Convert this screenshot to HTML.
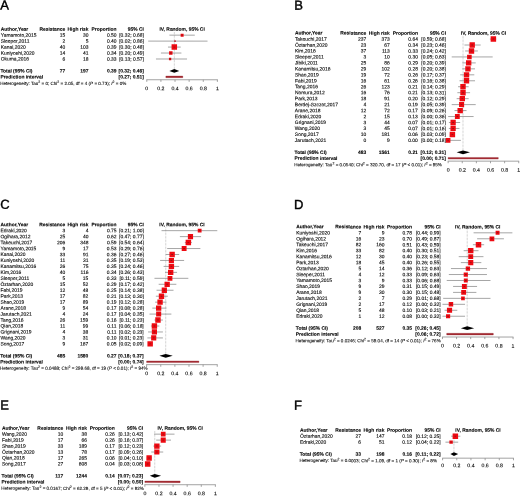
<!DOCTYPE html>
<html lang="en">
<head>
<meta charset="utf-8">
<title>Forest plots A-F</title>
<style>
html,body{margin:0;padding:0;background:#fff;}
body{width:520px;height:496px;overflow:hidden;}
svg{display:block;}
text{font-family:"Liberation Sans",Arial,Helvetica,sans-serif;font-size:4.95px;fill:#000;stroke:#000;stroke-width:0.1px;}
text.b{font-weight:bold;font-size:4.92px;}
text.h{font-size:4.56px;stroke-width:0.08px;}
text.lbl{font-size:13.0px;stroke-width:0.4px;}
text.tk{font-size:5.2px;}
</style>
</head>
<body>
<svg width="520" height="496" viewBox="0 0 520 496" text-rendering="geometricPrecision">
<rect x="0" y="0" width="520" height="496" fill="#ffffff"/>
<g transform="rotate(0.03 260 248)">
<g id="panel-A">
<text x="0.10" y="9.75" class="lbl">A</text>
<text x="0.60" y="30.84" class="b">Author,Year</text>
<text x="65.20" y="30.84" class="b" text-anchor="end">Resistance</text>
<text x="88.40" y="30.84" class="b" text-anchor="end">High risk</text>
<text x="116.50" y="30.84" class="b" text-anchor="end">Proportion</text>
<text x="143.80" y="30.84" class="b" text-anchor="end">95% CI</text>
<text x="182.00" y="30.84" class="b" text-anchor="middle">IV, Random, 95% CI</text>
<line x1="174.23" y1="32.04" x2="174.23" y2="70.96" stroke="#6e6e6e" stroke-width="0.5" stroke-dasharray="0.6 0.8"/>
<text x="0.60" y="36.90" class="au">Yamamoto,2015</text>
<text x="65.20" y="36.90" text-anchor="end">15</text>
<text x="88.40" y="36.90" text-anchor="end">30</text>
<text x="116.50" y="36.90" text-anchor="end">0.50</text>
<text x="143.80" y="36.90" class="ci" text-anchor="end">[0.32; 0.68]</text>
<line x1="169.29" y1="35.20" x2="194.71" y2="35.20" stroke="#808080" stroke-width="0.7"/>
<rect x="180.51" y="33.71" width="2.99" height="2.99" fill="#ee0a12"/>
<rect x="181.20" y="34.75" width="1.6" height="0.9" fill="#7a1515" opacity="0.8"/>
<text x="0.60" y="42.86" class="au">Sleeper,2011</text>
<text x="65.20" y="42.86" text-anchor="end">2</text>
<text x="88.40" y="42.86" text-anchor="end">5</text>
<text x="116.50" y="42.86" text-anchor="end">0.40</text>
<text x="143.80" y="42.86" class="ci" text-anchor="end">[0.02; 0.86]</text>
<line x1="148.11" y1="41.16" x2="207.42" y2="41.16" stroke="#808080" stroke-width="0.7"/>
<rect x="174.31" y="40.53" width="1.27" height="1.27" fill="#ee0a12"/>
<rect x="174.14" y="40.71" width="1.6" height="0.9" fill="#7a1515" opacity="0.8"/>
<text x="0.60" y="48.82" class="au">Kanai,2020</text>
<text x="65.20" y="48.82" text-anchor="end">40</text>
<text x="88.40" y="48.82" text-anchor="end">103</text>
<text x="116.50" y="48.82" text-anchor="end">0.39</text>
<text x="143.80" y="48.82" class="ci" text-anchor="end">[0.30; 0.48]</text>
<line x1="167.88" y1="47.12" x2="180.59" y2="47.12" stroke="#808080" stroke-width="0.7"/>
<rect x="171.48" y="44.37" width="5.50" height="5.50" fill="#ee0a12"/>
<rect x="173.43" y="46.67" width="1.6" height="0.9" fill="#7a1515" opacity="0.8"/>
<text x="0.60" y="54.78" class="au">Kuniyoshi,2020</text>
<text x="65.20" y="54.78" text-anchor="end">14</text>
<text x="88.40" y="54.78" text-anchor="end">41</text>
<text x="116.50" y="54.78" text-anchor="end">0.34</text>
<text x="143.80" y="54.78" class="ci" text-anchor="end">[0.20; 0.49]</text>
<line x1="160.82" y1="53.08" x2="181.29" y2="53.08" stroke="#808080" stroke-width="0.7"/>
<rect x="168.96" y="51.34" width="3.48" height="3.48" fill="#ee0a12"/>
<rect x="169.90" y="52.63" width="1.6" height="0.9" fill="#7a1515" opacity="0.8"/>
<text x="0.60" y="60.74" class="au">Okuma,2016</text>
<text x="65.20" y="60.74" text-anchor="end">6</text>
<text x="88.40" y="60.74" text-anchor="end">18</text>
<text x="116.50" y="60.74" text-anchor="end">0.33</text>
<text x="143.80" y="60.74" class="ci" text-anchor="end">[0.13; 0.57]</text>
<line x1="155.88" y1="59.04" x2="186.94" y2="59.04" stroke="#808080" stroke-width="0.7"/>
<rect x="168.84" y="57.88" width="2.33" height="2.33" fill="#ee0a12"/>
<rect x="169.20" y="58.59" width="1.6" height="0.9" fill="#7a1515" opacity="0.8"/>
<text x="0.30" y="72.66" class="b">Total (95% CI)</text>
<text x="65.20" y="72.66" class="b" text-anchor="end">77</text>
<text x="88.40" y="72.66" class="b" text-anchor="end">197</text>
<text x="116.50" y="72.66" class="b" text-anchor="end">0.39</text>
<text x="143.80" y="72.66" class="b" text-anchor="end">[0.32; 0.46]</text>
<polygon points="169.29,70.96 174.23,69.06 179.18,70.96 174.23,72.86" fill="#000"/>
<text x="0.30" y="78.62" class="b">Prediction interval</text>
<text x="143.80" y="78.62" class="b" text-anchor="end">[0.27; 0.51]</text>
<rect x="165.76" y="76.12" width="16.94" height="1.6" fill="#a62e36" stroke="#8c141a" stroke-width="0.3"/>
<text x="0.05" y="85.03" class="h">Heterogeneity: Tau<tspan dy="-1.9" font-size="3.56">2</tspan><tspan dy="1.9"> = 0; Chi</tspan><tspan dy="-1.9" font-size="3.56">2</tspan><tspan dy="1.9"> = 2.05, df = 4 (<tspan font-style="italic">P</tspan> = 0.73); <tspan font-style="italic">I</tspan></tspan><tspan dy="-1.9" font-size="3.56">2</tspan><tspan dy="1.9"> = 0%</tspan></text>
<line x1="146.30" y1="79.80" x2="217.70" y2="79.80" stroke="#8c8c8c" stroke-width="0.8"/>
<line x1="146.70" y1="79.80" x2="146.70" y2="81.90" stroke="#8c8c8c" stroke-width="0.8"/>
<text x="146.70" y="90.40" class="tk" text-anchor="middle">0</text>
<line x1="160.82" y1="79.80" x2="160.82" y2="81.90" stroke="#8c8c8c" stroke-width="0.8"/>
<text x="160.82" y="90.40" class="tk" text-anchor="middle">0.2</text>
<line x1="174.94" y1="79.80" x2="174.94" y2="81.90" stroke="#8c8c8c" stroke-width="0.8"/>
<text x="174.94" y="90.40" class="tk" text-anchor="middle">0.4</text>
<line x1="189.06" y1="79.80" x2="189.06" y2="81.90" stroke="#8c8c8c" stroke-width="0.8"/>
<text x="189.06" y="90.40" class="tk" text-anchor="middle">0.6</text>
<line x1="203.18" y1="79.80" x2="203.18" y2="81.90" stroke="#8c8c8c" stroke-width="0.8"/>
<text x="203.18" y="90.40" class="tk" text-anchor="middle">0.8</text>
<line x1="217.30" y1="79.80" x2="217.30" y2="81.90" stroke="#8c8c8c" stroke-width="0.8"/>
<text x="217.30" y="90.40" class="tk" text-anchor="middle">1</text>
</g>
<g id="panel-B">
<text x="294.25" y="9.65" class="lbl">B</text>
<text x="294.80" y="34.59" class="b">Author,Year</text>
<text x="366.10" y="34.59" class="b" text-anchor="end">Resistance</text>
<text x="389.70" y="34.59" class="b" text-anchor="end">High risk</text>
<text x="417.80" y="34.59" class="b" text-anchor="end">Proportion</text>
<text x="445.90" y="34.59" class="b" text-anchor="end">95% CI</text>
<text x="483.40" y="34.59" class="b" text-anchor="middle">IV, Random, 95% CI</text>
<line x1="462.93" y1="35.79" x2="462.93" y2="152.19" stroke="#6e6e6e" stroke-width="0.5" stroke-dasharray="0.6 0.8"/>
<text x="294.80" y="40.65" class="au">Takeuchi,2017</text>
<text x="366.10" y="40.65" text-anchor="end">237</text>
<text x="389.70" y="40.65" text-anchor="end">373</text>
<text x="417.80" y="40.65" text-anchor="end">0.64</text>
<text x="445.90" y="40.65" class="ci" text-anchor="end">[0.59; 0.68]</text>
<line x1="489.75" y1="38.95" x2="496.11" y2="38.95" stroke="#808080" stroke-width="0.7"/>
<rect x="490.53" y="36.20" width="5.50" height="5.50" fill="#ee0a12"/>
<rect x="492.48" y="38.50" width="1.6" height="0.9" fill="#7a1515" opacity="0.8"/>
<text x="294.80" y="46.61" class="au">Öztarhan,2020</text>
<text x="366.10" y="46.61" text-anchor="end">23</text>
<text x="389.70" y="46.61" text-anchor="end">67</text>
<text x="417.80" y="46.61" text-anchor="end">0.34</text>
<text x="445.90" y="46.61" class="ci" text-anchor="end">[0.23; 0.46]</text>
<line x1="464.34" y1="44.91" x2="480.58" y2="44.91" stroke="#808080" stroke-width="0.7"/>
<rect x="469.43" y="42.23" width="5.35" height="5.35" fill="#ee0a12"/>
<rect x="471.30" y="44.46" width="1.6" height="0.9" fill="#7a1515" opacity="0.8"/>
<text x="294.80" y="52.57" class="au">Kim,2016</text>
<text x="366.10" y="52.57" text-anchor="end">37</text>
<text x="389.70" y="52.57" text-anchor="end">113</text>
<text x="417.80" y="52.57" text-anchor="end">0.33</text>
<text x="445.90" y="52.57" class="ci" text-anchor="end">[0.24; 0.42]</text>
<line x1="465.04" y1="50.87" x2="477.75" y2="50.87" stroke="#808080" stroke-width="0.7"/>
<rect x="468.69" y="48.16" width="5.42" height="5.42" fill="#ee0a12"/>
<rect x="470.60" y="50.42" width="1.6" height="0.9" fill="#7a1515" opacity="0.8"/>
<text x="294.80" y="58.53" class="au">Sleeper,2011</text>
<text x="366.10" y="58.53" text-anchor="end">3</text>
<text x="389.70" y="58.53" text-anchor="end">10</text>
<text x="417.80" y="58.53" text-anchor="end">0.30</text>
<text x="445.90" y="58.53" class="ci" text-anchor="end">[0.05; 0.63]</text>
<line x1="451.63" y1="56.83" x2="492.58" y2="56.83" stroke="#808080" stroke-width="0.7"/>
<rect x="466.97" y="54.52" width="4.61" height="4.61" fill="#ee0a12"/>
<rect x="468.48" y="56.38" width="1.6" height="0.9" fill="#7a1515" opacity="0.8"/>
<text x="294.80" y="64.49" class="au">Jibiki,2011</text>
<text x="366.10" y="64.49" text-anchor="end">25</text>
<text x="389.70" y="64.49" text-anchor="end">86</text>
<text x="417.80" y="64.49" text-anchor="end">0.29</text>
<text x="445.90" y="64.49" class="ci" text-anchor="end">[0.20; 0.39]</text>
<line x1="462.22" y1="62.79" x2="475.63" y2="62.79" stroke="#808080" stroke-width="0.7"/>
<rect x="465.88" y="60.09" width="5.39" height="5.39" fill="#ee0a12"/>
<rect x="467.77" y="62.34" width="1.6" height="0.9" fill="#7a1515" opacity="0.8"/>
<text x="294.80" y="70.45" class="au">Kanamitsu,2016</text>
<text x="366.10" y="70.45" text-anchor="end">29</text>
<text x="389.70" y="70.45" text-anchor="end">102</text>
<text x="417.80" y="70.45" text-anchor="end">0.28</text>
<text x="445.90" y="70.45" class="ci" text-anchor="end">[0.20; 0.38]</text>
<line x1="462.22" y1="68.75" x2="474.93" y2="68.75" stroke="#808080" stroke-width="0.7"/>
<rect x="465.16" y="66.04" width="5.41" height="5.41" fill="#ee0a12"/>
<rect x="467.07" y="68.30" width="1.6" height="0.9" fill="#7a1515" opacity="0.8"/>
<text x="294.80" y="76.41" class="au">Shao,2019</text>
<text x="366.10" y="76.41" text-anchor="end">19</text>
<text x="389.70" y="76.41" text-anchor="end">72</text>
<text x="417.80" y="76.41" text-anchor="end">0.26</text>
<text x="445.90" y="76.41" class="ci" text-anchor="end">[0.17; 0.37]</text>
<line x1="460.10" y1="74.71" x2="474.22" y2="74.71" stroke="#808080" stroke-width="0.7"/>
<rect x="463.77" y="72.03" width="5.37" height="5.37" fill="#ee0a12"/>
<rect x="465.66" y="74.26" width="1.6" height="0.9" fill="#7a1515" opacity="0.8"/>
<text x="294.80" y="82.37" class="au">Fabi,2019</text>
<text x="366.10" y="82.37" text-anchor="end">16</text>
<text x="389.70" y="82.37" text-anchor="end">61</text>
<text x="417.80" y="82.37" text-anchor="end">0.26</text>
<text x="445.90" y="82.37" class="ci" text-anchor="end">[0.16; 0.38]</text>
<line x1="459.40" y1="80.67" x2="474.93" y2="80.67" stroke="#808080" stroke-width="0.7"/>
<rect x="463.79" y="78.00" width="5.34" height="5.34" fill="#ee0a12"/>
<rect x="465.66" y="80.22" width="1.6" height="0.9" fill="#7a1515" opacity="0.8"/>
<text x="294.80" y="88.33" class="au">Tang,2016</text>
<text x="366.10" y="88.33" text-anchor="end">26</text>
<text x="389.70" y="88.33" text-anchor="end">123</text>
<text x="417.80" y="88.33" text-anchor="end">0.21</text>
<text x="445.90" y="88.33" class="ci" text-anchor="end">[0.14; 0.29]</text>
<line x1="457.98" y1="86.63" x2="468.57" y2="86.63" stroke="#808080" stroke-width="0.7"/>
<rect x="460.21" y="83.91" width="5.43" height="5.43" fill="#ee0a12"/>
<rect x="462.13" y="86.18" width="1.6" height="0.9" fill="#7a1515" opacity="0.8"/>
<text x="294.80" y="94.29" class="au">Nomura,2012</text>
<text x="366.10" y="94.29" text-anchor="end">16</text>
<text x="389.70" y="94.29" text-anchor="end">76</text>
<text x="417.80" y="94.29" text-anchor="end">0.21</text>
<text x="445.90" y="94.29" class="ci" text-anchor="end">[0.13; 0.31]</text>
<line x1="457.28" y1="92.59" x2="469.99" y2="92.59" stroke="#808080" stroke-width="0.7"/>
<rect x="460.24" y="89.90" width="5.37" height="5.37" fill="#ee0a12"/>
<rect x="462.13" y="92.14" width="1.6" height="0.9" fill="#7a1515" opacity="0.8"/>
<text x="294.80" y="100.25" class="au">Park,2013</text>
<text x="366.10" y="100.25" text-anchor="end">18</text>
<text x="389.70" y="100.25" text-anchor="end">91</text>
<text x="417.80" y="100.25" text-anchor="end">0.20</text>
<text x="445.90" y="100.25" class="ci" text-anchor="end">[0.12; 0.29]</text>
<line x1="456.57" y1="98.55" x2="468.57" y2="98.55" stroke="#808080" stroke-width="0.7"/>
<rect x="459.52" y="95.85" width="5.40" height="5.40" fill="#ee0a12"/>
<rect x="461.42" y="98.10" width="1.6" height="0.9" fill="#7a1515" opacity="0.8"/>
<text x="294.80" y="106.21" class="au">Berdej-Szczot,2017</text>
<text x="366.10" y="106.21" text-anchor="end">4</text>
<text x="389.70" y="106.21" text-anchor="end">21</text>
<text x="417.80" y="106.21" text-anchor="end">0.19</text>
<text x="445.90" y="106.21" class="ci" text-anchor="end">[0.05; 0.39]</text>
<line x1="451.63" y1="104.51" x2="475.63" y2="104.51" stroke="#808080" stroke-width="0.7"/>
<rect x="459.00" y="102.00" width="5.02" height="5.02" fill="#ee0a12"/>
<rect x="460.71" y="104.06" width="1.6" height="0.9" fill="#7a1515" opacity="0.8"/>
<text x="294.80" y="112.17" class="au">Arane,2018</text>
<text x="366.10" y="112.17" text-anchor="end">12</text>
<text x="389.70" y="112.17" text-anchor="end">72</text>
<text x="417.80" y="112.17" text-anchor="end">0.17</text>
<text x="445.90" y="112.17" class="ci" text-anchor="end">[0.09; 0.26]</text>
<line x1="454.45" y1="110.47" x2="466.46" y2="110.47" stroke="#808080" stroke-width="0.7"/>
<rect x="457.42" y="107.79" width="5.37" height="5.37" fill="#ee0a12"/>
<rect x="459.30" y="110.02" width="1.6" height="0.9" fill="#7a1515" opacity="0.8"/>
<text x="294.80" y="118.13" class="au">Edraki,2020</text>
<text x="366.10" y="118.13" text-anchor="end">2</text>
<text x="389.70" y="118.13" text-anchor="end">15</text>
<text x="417.80" y="118.13" text-anchor="end">0.13</text>
<text x="445.90" y="118.13" class="ci" text-anchor="end">[0.00; 0.36]</text>
<line x1="448.10" y1="116.43" x2="473.52" y2="116.43" stroke="#808080" stroke-width="0.7"/>
<rect x="454.85" y="114.00" width="4.86" height="4.86" fill="#ee0a12"/>
<rect x="456.48" y="115.98" width="1.6" height="0.9" fill="#7a1515" opacity="0.8"/>
<text x="294.80" y="124.09" class="au">Grignani,2019</text>
<text x="366.10" y="124.09" text-anchor="end">3</text>
<text x="389.70" y="124.09" text-anchor="end">44</text>
<text x="417.80" y="124.09" text-anchor="end">0.07</text>
<text x="445.90" y="124.09" class="ci" text-anchor="end">[0.01; 0.17]</text>
<line x1="448.81" y1="122.39" x2="460.10" y2="122.39" stroke="#808080" stroke-width="0.7"/>
<rect x="450.41" y="119.76" width="5.27" height="5.27" fill="#ee0a12"/>
<rect x="452.24" y="121.94" width="1.6" height="0.9" fill="#7a1515" opacity="0.8"/>
<text x="294.80" y="130.05" class="au">Wang,2020</text>
<text x="366.10" y="130.05" text-anchor="end">3</text>
<text x="389.70" y="130.05" text-anchor="end">45</text>
<text x="417.80" y="130.05" text-anchor="end">0.07</text>
<text x="445.90" y="130.05" class="ci" text-anchor="end">[0.01; 0.16]</text>
<line x1="448.81" y1="128.35" x2="459.40" y2="128.35" stroke="#808080" stroke-width="0.7"/>
<rect x="450.41" y="125.71" width="5.27" height="5.27" fill="#ee0a12"/>
<rect x="452.24" y="127.90" width="1.6" height="0.9" fill="#7a1515" opacity="0.8"/>
<text x="294.80" y="136.01" class="au">Song,2017</text>
<text x="366.10" y="136.01" text-anchor="end">10</text>
<text x="389.70" y="136.01" text-anchor="end">181</text>
<text x="417.80" y="136.01" text-anchor="end">0.06</text>
<text x="445.90" y="136.01" class="ci" text-anchor="end">[0.03; 0.09]</text>
<line x1="450.22" y1="134.31" x2="454.45" y2="134.31" stroke="#808080" stroke-width="0.7"/>
<rect x="449.60" y="131.58" width="5.46" height="5.46" fill="#ee0a12"/>
<rect x="451.54" y="133.86" width="1.6" height="0.9" fill="#7a1515" opacity="0.8"/>
<text x="294.80" y="141.97" class="au">Jarutach,2021</text>
<text x="366.10" y="141.97" text-anchor="end">0</text>
<text x="389.70" y="141.97" text-anchor="end">9</text>
<text x="417.80" y="141.97" text-anchor="end">0.00</text>
<text x="445.90" y="141.97" class="ci" text-anchor="end">[0.00; 0.18]</text>
<line x1="448.10" y1="140.27" x2="460.81" y2="140.27" stroke="#808080" stroke-width="0.7"/>
<rect x="445.83" y="138.00" width="4.54" height="4.54" fill="#ee0a12"/>
<rect x="447.30" y="139.82" width="1.6" height="0.9" fill="#7a1515" opacity="0.8"/>
<text x="294.50" y="153.89" class="b">Total (95% CI)</text>
<text x="366.10" y="153.89" class="b" text-anchor="end">483</text>
<text x="389.70" y="153.89" class="b" text-anchor="end">1561</text>
<text x="417.80" y="153.89" class="b" text-anchor="end">0.21</text>
<text x="445.90" y="153.89" class="b" text-anchor="end">[0.12; 0.31]</text>
<polygon points="456.57,152.19 462.93,150.29 469.99,152.19 462.93,154.09" fill="#000"/>
<text x="294.50" y="159.85" class="b">Prediction interval</text>
<text x="445.90" y="159.85" class="b" text-anchor="end">[0.00; 0.71]</text>
<rect x="448.10" y="157.35" width="50.13" height="1.6" fill="#a62e36" stroke="#8c141a" stroke-width="0.3"/>
<text x="294.25" y="166.26" class="h">Heterogeneity: Tau<tspan dy="-1.9" font-size="3.56">2</tspan><tspan dy="1.9"> = 0.0540; Chi</tspan><tspan dy="-1.9" font-size="3.56">2</tspan><tspan dy="1.9"> = 320.70, df = 17 (<tspan font-style="italic">P</tspan> &lt; 0.01); <tspan font-style="italic">I</tspan></tspan><tspan dy="-1.9" font-size="3.56">2</tspan><tspan dy="1.9"> = 95%</tspan></text>
<line x1="447.70" y1="161.03" x2="519.10" y2="161.03" stroke="#8c8c8c" stroke-width="0.8"/>
<line x1="448.10" y1="161.03" x2="448.10" y2="163.13" stroke="#8c8c8c" stroke-width="0.8"/>
<text x="448.10" y="171.63" class="tk" text-anchor="middle">0</text>
<line x1="462.22" y1="161.03" x2="462.22" y2="163.13" stroke="#8c8c8c" stroke-width="0.8"/>
<text x="462.22" y="171.63" class="tk" text-anchor="middle">0.2</text>
<line x1="476.34" y1="161.03" x2="476.34" y2="163.13" stroke="#8c8c8c" stroke-width="0.8"/>
<text x="476.34" y="171.63" class="tk" text-anchor="middle">0.4</text>
<line x1="490.46" y1="161.03" x2="490.46" y2="163.13" stroke="#8c8c8c" stroke-width="0.8"/>
<text x="490.46" y="171.63" class="tk" text-anchor="middle">0.6</text>
<line x1="504.58" y1="161.03" x2="504.58" y2="163.13" stroke="#8c8c8c" stroke-width="0.8"/>
<text x="504.58" y="171.63" class="tk" text-anchor="middle">0.8</text>
<line x1="518.70" y1="161.03" x2="518.70" y2="163.13" stroke="#8c8c8c" stroke-width="0.8"/>
<text x="518.70" y="171.63" class="tk" text-anchor="middle">1</text>
</g>
<g id="panel-C">
<text x="0.25" y="208.95" class="lbl">C</text>
<text x="0.50" y="226.34" class="b">Author,Year</text>
<text x="65.20" y="226.34" class="b" text-anchor="end">Resistance</text>
<text x="88.40" y="226.34" class="b" text-anchor="end">High risk</text>
<text x="116.50" y="226.34" class="b" text-anchor="end">Proportion</text>
<text x="143.80" y="226.34" class="b" text-anchor="end">95% CI</text>
<text x="182.00" y="226.34" class="b" text-anchor="middle">IV, Random, 95% CI</text>
<line x1="165.76" y1="227.54" x2="165.76" y2="355.86" stroke="#6e6e6e" stroke-width="0.5" stroke-dasharray="0.6 0.8"/>
<text x="0.50" y="232.40" class="au">Edraki,2020</text>
<text x="65.20" y="232.40" text-anchor="end">3</text>
<text x="88.40" y="232.40" text-anchor="end">4</text>
<text x="116.50" y="232.40" text-anchor="end">0.75</text>
<text x="143.80" y="232.40" class="ci" text-anchor="end">[0.21; 1.00]</text>
<line x1="161.53" y1="230.70" x2="217.30" y2="230.70" stroke="#808080" stroke-width="0.7"/>
<rect x="197.76" y="228.81" width="3.79" height="3.79" fill="#ee0a12"/>
<rect x="198.85" y="230.25" width="1.6" height="0.9" fill="#7a1515" opacity="0.8"/>
<text x="0.50" y="238.36" class="au">Ogihara,2012</text>
<text x="65.20" y="238.36" text-anchor="end">25</text>
<text x="88.40" y="238.36" text-anchor="end">40</text>
<text x="116.50" y="238.36" text-anchor="end">0.62</text>
<text x="143.80" y="238.36" class="ci" text-anchor="end">[0.47; 0.77]</text>
<line x1="179.88" y1="236.66" x2="201.06" y2="236.66" stroke="#808080" stroke-width="0.7"/>
<rect x="187.86" y="234.05" width="5.22" height="5.22" fill="#ee0a12"/>
<rect x="189.67" y="236.21" width="1.6" height="0.9" fill="#7a1515" opacity="0.8"/>
<text x="0.50" y="244.32" class="au">Takeuchi,2017</text>
<text x="65.20" y="244.32" text-anchor="end">206</text>
<text x="88.40" y="244.32" text-anchor="end">348</text>
<text x="116.50" y="244.32" text-anchor="end">0.59</text>
<text x="143.80" y="244.32" class="ci" text-anchor="end">[0.54; 0.64]</text>
<line x1="184.82" y1="242.62" x2="191.88" y2="242.62" stroke="#808080" stroke-width="0.7"/>
<rect x="185.60" y="239.87" width="5.50" height="5.50" fill="#ee0a12"/>
<rect x="187.55" y="242.17" width="1.6" height="0.9" fill="#7a1515" opacity="0.8"/>
<text x="0.50" y="250.28" class="au">Yamamoto,2015</text>
<text x="65.20" y="250.28" text-anchor="end">9</text>
<text x="88.40" y="250.28" text-anchor="end">17</text>
<text x="116.50" y="250.28" text-anchor="end">0.53</text>
<text x="143.80" y="250.28" class="ci" text-anchor="end">[0.29; 0.76]</text>
<line x1="167.17" y1="248.58" x2="200.36" y2="248.58" stroke="#808080" stroke-width="0.7"/>
<rect x="181.68" y="246.14" width="4.87" height="4.87" fill="#ee0a12"/>
<rect x="183.32" y="248.13" width="1.6" height="0.9" fill="#7a1515" opacity="0.8"/>
<text x="0.50" y="256.24" class="au">Kanai,2020</text>
<text x="65.20" y="256.24" text-anchor="end">33</text>
<text x="88.40" y="256.24" text-anchor="end">91</text>
<text x="116.50" y="256.24" text-anchor="end">0.36</text>
<text x="143.80" y="256.24" class="ci" text-anchor="end">[0.27; 0.46]</text>
<line x1="165.76" y1="254.54" x2="179.18" y2="254.54" stroke="#808080" stroke-width="0.7"/>
<rect x="169.42" y="251.84" width="5.39" height="5.39" fill="#ee0a12"/>
<rect x="171.32" y="254.09" width="1.6" height="0.9" fill="#7a1515" opacity="0.8"/>
<text x="0.50" y="262.20" class="au">Kuniyoshi,2020</text>
<text x="65.20" y="262.20" text-anchor="end">11</text>
<text x="88.40" y="262.20" text-anchor="end">31</text>
<text x="116.50" y="262.20" text-anchor="end">0.35</text>
<text x="143.80" y="262.20" class="ci" text-anchor="end">[0.19; 0.53]</text>
<line x1="160.11" y1="260.50" x2="184.12" y2="260.50" stroke="#808080" stroke-width="0.7"/>
<rect x="168.84" y="257.93" width="5.14" height="5.14" fill="#ee0a12"/>
<rect x="170.61" y="260.05" width="1.6" height="0.9" fill="#7a1515" opacity="0.8"/>
<text x="0.50" y="268.16" class="au">Kanamitsu,2016</text>
<text x="65.20" y="268.16" text-anchor="end">26</text>
<text x="88.40" y="268.16" text-anchor="end">75</text>
<text x="116.50" y="268.16" text-anchor="end">0.35</text>
<text x="143.80" y="268.16" class="ci" text-anchor="end">[0.24; 0.46]</text>
<line x1="163.64" y1="266.46" x2="179.18" y2="266.46" stroke="#808080" stroke-width="0.7"/>
<rect x="168.73" y="263.78" width="5.36" height="5.36" fill="#ee0a12"/>
<rect x="170.61" y="266.01" width="1.6" height="0.9" fill="#7a1515" opacity="0.8"/>
<text x="0.50" y="274.12" class="au">Kim,2016</text>
<text x="65.20" y="274.12" text-anchor="end">40</text>
<text x="88.40" y="274.12" text-anchor="end">116</text>
<text x="116.50" y="274.12" text-anchor="end">0.34</text>
<text x="143.80" y="274.12" class="ci" text-anchor="end">[0.26; 0.43]</text>
<line x1="165.06" y1="272.42" x2="177.06" y2="272.42" stroke="#808080" stroke-width="0.7"/>
<rect x="167.99" y="269.71" width="5.42" height="5.42" fill="#ee0a12"/>
<rect x="169.90" y="271.97" width="1.6" height="0.9" fill="#7a1515" opacity="0.8"/>
<text x="0.50" y="280.08" class="au">Sleeper,2011</text>
<text x="65.20" y="280.08" text-anchor="end">5</text>
<text x="88.40" y="280.08" text-anchor="end">15</text>
<text x="116.50" y="280.08" text-anchor="end">0.33</text>
<text x="143.80" y="280.08" class="ci" text-anchor="end">[0.11; 0.59]</text>
<line x1="154.47" y1="278.38" x2="188.35" y2="278.38" stroke="#808080" stroke-width="0.7"/>
<rect x="167.60" y="275.98" width="4.80" height="4.80" fill="#ee0a12"/>
<rect x="169.20" y="277.93" width="1.6" height="0.9" fill="#7a1515" opacity="0.8"/>
<text x="0.50" y="286.04" class="au">Öztarhan,2020</text>
<text x="65.20" y="286.04" text-anchor="end">15</text>
<text x="88.40" y="286.04" text-anchor="end">52</text>
<text x="116.50" y="286.04" text-anchor="end">0.29</text>
<text x="143.80" y="286.04" class="ci" text-anchor="end">[0.17; 0.42]</text>
<line x1="158.70" y1="284.34" x2="176.35" y2="284.34" stroke="#808080" stroke-width="0.7"/>
<rect x="164.53" y="281.70" width="5.29" height="5.29" fill="#ee0a12"/>
<rect x="166.37" y="283.89" width="1.6" height="0.9" fill="#7a1515" opacity="0.8"/>
<text x="0.50" y="292.00" class="au">Fabi,2019</text>
<text x="65.20" y="292.00" text-anchor="end">12</text>
<text x="88.40" y="292.00" text-anchor="end">48</text>
<text x="116.50" y="292.00" text-anchor="end">0.25</text>
<text x="143.80" y="292.00" class="ci" text-anchor="end">[0.14; 0.38]</text>
<line x1="156.58" y1="290.30" x2="173.53" y2="290.30" stroke="#808080" stroke-width="0.7"/>
<rect x="161.72" y="287.67" width="5.27" height="5.27" fill="#ee0a12"/>
<rect x="163.55" y="289.85" width="1.6" height="0.9" fill="#7a1515" opacity="0.8"/>
<text x="0.50" y="297.96" class="au">Park,2013</text>
<text x="65.20" y="297.96" text-anchor="end">17</text>
<text x="88.40" y="297.96" text-anchor="end">82</text>
<text x="116.50" y="297.96" text-anchor="end">0.21</text>
<text x="143.80" y="297.96" class="ci" text-anchor="end">[0.13; 0.30]</text>
<line x1="155.88" y1="296.26" x2="167.88" y2="296.26" stroke="#808080" stroke-width="0.7"/>
<rect x="158.84" y="293.57" width="5.38" height="5.38" fill="#ee0a12"/>
<rect x="160.73" y="295.81" width="1.6" height="0.9" fill="#7a1515" opacity="0.8"/>
<text x="0.50" y="303.92" class="au">Shao,2019</text>
<text x="65.20" y="303.92" text-anchor="end">17</text>
<text x="88.40" y="303.92" text-anchor="end">89</text>
<text x="116.50" y="303.92" text-anchor="end">0.19</text>
<text x="143.80" y="303.92" class="ci" text-anchor="end">[0.12; 0.28]</text>
<line x1="155.17" y1="302.22" x2="166.47" y2="302.22" stroke="#808080" stroke-width="0.7"/>
<rect x="157.42" y="299.53" width="5.39" height="5.39" fill="#ee0a12"/>
<rect x="159.31" y="301.77" width="1.6" height="0.9" fill="#7a1515" opacity="0.8"/>
<text x="0.50" y="309.88" class="au">Arane,2018</text>
<text x="65.20" y="309.88" text-anchor="end">9</text>
<text x="88.40" y="309.88" text-anchor="end">54</text>
<text x="116.50" y="309.88" text-anchor="end">0.17</text>
<text x="143.80" y="309.88" class="ci" text-anchor="end">[0.08; 0.28]</text>
<line x1="152.35" y1="308.18" x2="166.47" y2="308.18" stroke="#808080" stroke-width="0.7"/>
<rect x="156.05" y="305.53" width="5.30" height="5.30" fill="#ee0a12"/>
<rect x="157.90" y="307.73" width="1.6" height="0.9" fill="#7a1515" opacity="0.8"/>
<text x="0.50" y="315.84" class="au">Jarutach,2021</text>
<text x="65.20" y="315.84" text-anchor="end">4</text>
<text x="88.40" y="315.84" text-anchor="end">24</text>
<text x="116.50" y="315.84" text-anchor="end">0.17</text>
<text x="143.80" y="315.84" class="ci" text-anchor="end">[0.04; 0.35]</text>
<line x1="149.52" y1="314.14" x2="171.41" y2="314.14" stroke="#808080" stroke-width="0.7"/>
<rect x="156.18" y="311.62" width="5.04" height="5.04" fill="#ee0a12"/>
<rect x="157.90" y="313.69" width="1.6" height="0.9" fill="#7a1515" opacity="0.8"/>
<text x="0.50" y="321.80" class="au">Tang,2016</text>
<text x="65.20" y="321.80" text-anchor="end">26</text>
<text x="88.40" y="321.80" text-anchor="end">159</text>
<text x="116.50" y="321.80" text-anchor="end">0.16</text>
<text x="143.80" y="321.80" class="ci" text-anchor="end">[0.11; 0.23]</text>
<line x1="154.47" y1="320.10" x2="162.94" y2="320.10" stroke="#808080" stroke-width="0.7"/>
<rect x="155.27" y="317.37" width="5.45" height="5.45" fill="#ee0a12"/>
<rect x="157.20" y="319.65" width="1.6" height="0.9" fill="#7a1515" opacity="0.8"/>
<text x="0.50" y="327.76" class="au">Qian,2018</text>
<text x="65.20" y="327.76" text-anchor="end">11</text>
<text x="88.40" y="327.76" text-anchor="end">99</text>
<text x="116.50" y="327.76" text-anchor="end">0.11</text>
<text x="143.80" y="327.76" class="ci" text-anchor="end">[0.06; 0.18]</text>
<line x1="150.94" y1="326.06" x2="159.41" y2="326.06" stroke="#808080" stroke-width="0.7"/>
<rect x="151.76" y="323.36" width="5.40" height="5.40" fill="#ee0a12"/>
<rect x="153.67" y="325.61" width="1.6" height="0.9" fill="#7a1515" opacity="0.8"/>
<text x="0.50" y="333.72" class="au">Grignani,2019</text>
<text x="65.20" y="333.72" text-anchor="end">4</text>
<text x="88.40" y="333.72" text-anchor="end">38</text>
<text x="116.50" y="333.72" text-anchor="end">0.11</text>
<text x="143.80" y="333.72" class="ci" text-anchor="end">[0.02; 0.23]</text>
<line x1="148.11" y1="332.02" x2="162.94" y2="332.02" stroke="#808080" stroke-width="0.7"/>
<rect x="151.86" y="329.42" width="5.20" height="5.20" fill="#ee0a12"/>
<rect x="153.67" y="331.57" width="1.6" height="0.9" fill="#7a1515" opacity="0.8"/>
<text x="0.50" y="339.68" class="au">Wang,2020</text>
<text x="65.20" y="339.68" text-anchor="end">3</text>
<text x="88.40" y="339.68" text-anchor="end">31</text>
<text x="116.50" y="339.68" text-anchor="end">0.10</text>
<text x="143.80" y="339.68" class="ci" text-anchor="end">[0.01; 0.23]</text>
<line x1="147.41" y1="337.98" x2="162.94" y2="337.98" stroke="#808080" stroke-width="0.7"/>
<rect x="151.19" y="335.41" width="5.14" height="5.14" fill="#ee0a12"/>
<rect x="152.96" y="337.53" width="1.6" height="0.9" fill="#7a1515" opacity="0.8"/>
<text x="0.50" y="345.64" class="au">Song,2017</text>
<text x="65.20" y="345.64" text-anchor="end">9</text>
<text x="88.40" y="345.64" text-anchor="end">167</text>
<text x="116.50" y="345.64" text-anchor="end">0.05</text>
<text x="143.80" y="345.64" class="ci" text-anchor="end">[0.02; 0.09]</text>
<line x1="148.11" y1="343.94" x2="153.05" y2="343.94" stroke="#808080" stroke-width="0.7"/>
<rect x="147.50" y="341.21" width="5.46" height="5.46" fill="#ee0a12"/>
<rect x="149.43" y="343.49" width="1.6" height="0.9" fill="#7a1515" opacity="0.8"/>
<text x="0.20" y="357.56" class="b">Total (95% CI)</text>
<text x="65.20" y="357.56" class="b" text-anchor="end">485</text>
<text x="88.40" y="357.56" class="b" text-anchor="end">1580</text>
<text x="116.50" y="357.56" class="b" text-anchor="end">0.27</text>
<text x="143.80" y="357.56" class="b" text-anchor="end">[0.18; 0.37]</text>
<polygon points="159.41,355.86 165.76,353.96 172.82,355.86 165.76,357.76" fill="#000"/>
<text x="0.20" y="363.52" class="b">Prediction interval</text>
<text x="143.80" y="363.52" class="b" text-anchor="end">[0.00; 0.74]</text>
<rect x="146.70" y="361.02" width="52.24" height="1.6" fill="#a62e36" stroke="#8c141a" stroke-width="0.3"/>
<text x="-0.05" y="369.93" class="h">Heterogeneity: Tau<tspan dy="-1.9" font-size="3.56">2</tspan><tspan dy="1.9"> = 0.0488; Chi</tspan><tspan dy="-1.9" font-size="3.56">2</tspan><tspan dy="1.9"> = 299.68, df = 19 (<tspan font-style="italic">P</tspan> &lt; 0.01); <tspan font-style="italic">I</tspan></tspan><tspan dy="-1.9" font-size="3.56">2</tspan><tspan dy="1.9"> = 94%</tspan></text>
<line x1="146.30" y1="364.70" x2="217.70" y2="364.70" stroke="#8c8c8c" stroke-width="0.8"/>
<line x1="146.70" y1="364.70" x2="146.70" y2="366.80" stroke="#8c8c8c" stroke-width="0.8"/>
<text x="146.70" y="375.30" class="tk" text-anchor="middle">0</text>
<line x1="160.82" y1="364.70" x2="160.82" y2="366.80" stroke="#8c8c8c" stroke-width="0.8"/>
<text x="160.82" y="375.30" class="tk" text-anchor="middle">0.2</text>
<line x1="174.94" y1="364.70" x2="174.94" y2="366.80" stroke="#8c8c8c" stroke-width="0.8"/>
<text x="174.94" y="375.30" class="tk" text-anchor="middle">0.4</text>
<line x1="189.06" y1="364.70" x2="189.06" y2="366.80" stroke="#8c8c8c" stroke-width="0.8"/>
<text x="189.06" y="375.30" class="tk" text-anchor="middle">0.6</text>
<line x1="203.18" y1="364.70" x2="203.18" y2="366.80" stroke="#8c8c8c" stroke-width="0.8"/>
<text x="203.18" y="375.30" class="tk" text-anchor="middle">0.8</text>
<line x1="217.30" y1="364.70" x2="217.30" y2="366.80" stroke="#8c8c8c" stroke-width="0.8"/>
<text x="217.30" y="375.30" class="tk" text-anchor="middle">1</text>
</g>
<g id="panel-D">
<text x="294.10" y="209.05" class="lbl">D</text>
<text x="296.20" y="228.34" class="b">Author,Year</text>
<text x="361.20" y="228.34" class="b" text-anchor="end">Resistance</text>
<text x="384.50" y="228.34" class="b" text-anchor="end">High risk</text>
<text x="412.10" y="228.34" class="b" text-anchor="end">Proportion</text>
<text x="440.70" y="228.34" class="b" text-anchor="end">95% CI</text>
<text x="477.80" y="228.34" class="b" text-anchor="middle">IV, Random, 95% CI</text>
<line x1="467.21" y1="229.54" x2="467.21" y2="328.06" stroke="#6e6e6e" stroke-width="0.5" stroke-dasharray="0.6 0.8"/>
<text x="296.20" y="234.40" class="au">Kuniyoshi,2020</text>
<text x="361.20" y="234.40" text-anchor="end">7</text>
<text x="384.50" y="234.40" text-anchor="end">9</text>
<text x="412.10" y="234.40" text-anchor="end">0.78</text>
<text x="440.70" y="234.40" class="ci" text-anchor="end">[0.44; 0.99]</text>
<line x1="473.56" y1="232.70" x2="512.39" y2="232.70" stroke="#808080" stroke-width="0.7"/>
<rect x="495.60" y="230.73" width="3.94" height="3.94" fill="#ee0a12"/>
<rect x="496.77" y="232.25" width="1.6" height="0.9" fill="#7a1515" opacity="0.8"/>
<text x="296.20" y="240.36" class="au">Ogihara,2012</text>
<text x="361.20" y="240.36" text-anchor="end">16</text>
<text x="384.50" y="240.36" text-anchor="end">23</text>
<text x="412.10" y="240.36" text-anchor="end">0.70</text>
<text x="440.70" y="240.36" class="ci" text-anchor="end">[0.49; 0.87]</text>
<line x1="477.09" y1="238.66" x2="503.92" y2="238.66" stroke="#808080" stroke-width="0.7"/>
<rect x="489.55" y="236.29" width="4.74" height="4.74" fill="#ee0a12"/>
<rect x="491.12" y="238.21" width="1.6" height="0.9" fill="#7a1515" opacity="0.8"/>
<text x="296.20" y="246.32" class="au">Takeuchi,2017</text>
<text x="361.20" y="246.32" text-anchor="end">82</text>
<text x="384.50" y="246.32" text-anchor="end">160</text>
<text x="412.10" y="246.32" text-anchor="end">0.51</text>
<text x="440.70" y="246.32" class="ci" text-anchor="end">[0.43; 0.59]</text>
<line x1="472.86" y1="244.62" x2="484.15" y2="244.62" stroke="#808080" stroke-width="0.7"/>
<rect x="475.76" y="241.87" width="5.50" height="5.50" fill="#ee0a12"/>
<rect x="477.71" y="244.17" width="1.6" height="0.9" fill="#7a1515" opacity="0.8"/>
<text x="296.20" y="252.28" class="au">Kim,2016</text>
<text x="361.20" y="252.28" text-anchor="end">33</text>
<text x="384.50" y="252.28" text-anchor="end">82</text>
<text x="412.10" y="252.28" text-anchor="end">0.40</text>
<text x="440.70" y="252.28" class="ci" text-anchor="end">[0.30; 0.51]</text>
<line x1="463.68" y1="250.58" x2="478.51" y2="250.58" stroke="#808080" stroke-width="0.7"/>
<rect x="468.06" y="247.90" width="5.35" height="5.35" fill="#ee0a12"/>
<rect x="469.94" y="250.13" width="1.6" height="0.9" fill="#7a1515" opacity="0.8"/>
<text x="296.20" y="258.24" class="au">Kanamitsu,2016</text>
<text x="361.20" y="258.24" text-anchor="end">12</text>
<text x="384.50" y="258.24" text-anchor="end">30</text>
<text x="412.10" y="258.24" text-anchor="end">0.40</text>
<text x="440.70" y="258.24" class="ci" text-anchor="end">[0.23; 0.58]</text>
<line x1="458.74" y1="256.54" x2="483.45" y2="256.54" stroke="#808080" stroke-width="0.7"/>
<rect x="468.28" y="254.08" width="4.91" height="4.91" fill="#ee0a12"/>
<rect x="469.94" y="256.09" width="1.6" height="0.9" fill="#7a1515" opacity="0.8"/>
<text x="296.20" y="264.20" class="au">Park,2013</text>
<text x="361.20" y="264.20" text-anchor="end">18</text>
<text x="384.50" y="264.20" text-anchor="end">45</text>
<text x="412.10" y="264.20" text-anchor="end">0.40</text>
<text x="440.70" y="264.20" class="ci" text-anchor="end">[0.26; 0.55]</text>
<line x1="460.86" y1="262.50" x2="481.33" y2="262.50" stroke="#808080" stroke-width="0.7"/>
<rect x="468.18" y="259.94" width="5.13" height="5.13" fill="#ee0a12"/>
<rect x="469.94" y="262.05" width="1.6" height="0.9" fill="#7a1515" opacity="0.8"/>
<text x="296.20" y="270.16" class="au">Öztarhan,2020</text>
<text x="361.20" y="270.16" text-anchor="end">5</text>
<text x="384.50" y="270.16" text-anchor="end">14</text>
<text x="412.10" y="270.16" text-anchor="end">0.36</text>
<text x="440.70" y="270.16" class="ci" text-anchor="end">[0.12; 0.63]</text>
<line x1="450.97" y1="268.46" x2="486.98" y2="268.46" stroke="#808080" stroke-width="0.7"/>
<rect x="465.74" y="266.29" width="4.35" height="4.35" fill="#ee0a12"/>
<rect x="467.12" y="268.01" width="1.6" height="0.9" fill="#7a1515" opacity="0.8"/>
<text x="296.20" y="276.12" class="au">Sleeper,2011</text>
<text x="361.20" y="276.12" text-anchor="end">4</text>
<text x="384.50" y="276.12" text-anchor="end">12</text>
<text x="412.10" y="276.12" text-anchor="end">0.33</text>
<text x="440.70" y="276.12" class="ci" text-anchor="end">[0.09; 0.63]</text>
<line x1="448.85" y1="274.42" x2="486.98" y2="274.42" stroke="#808080" stroke-width="0.7"/>
<rect x="463.69" y="272.31" width="4.21" height="4.21" fill="#ee0a12"/>
<rect x="465.00" y="273.97" width="1.6" height="0.9" fill="#7a1515" opacity="0.8"/>
<text x="296.20" y="282.08" class="au">Yamamoto,2015</text>
<text x="361.20" y="282.08" text-anchor="end">3</text>
<text x="384.50" y="282.08" text-anchor="end">9</text>
<text x="412.10" y="282.08" text-anchor="end">0.33</text>
<text x="440.70" y="282.08" class="ci" text-anchor="end">[0.06; 0.68]</text>
<line x1="446.74" y1="280.38" x2="490.51" y2="280.38" stroke="#808080" stroke-width="0.7"/>
<rect x="463.83" y="278.41" width="3.94" height="3.94" fill="#ee0a12"/>
<rect x="465.00" y="279.93" width="1.6" height="0.9" fill="#7a1515" opacity="0.8"/>
<text x="296.20" y="288.04" class="au">Shao,2019</text>
<text x="361.20" y="288.04" text-anchor="end">9</text>
<text x="384.50" y="288.04" text-anchor="end">29</text>
<text x="412.10" y="288.04" text-anchor="end">0.31</text>
<text x="440.70" y="288.04" class="ci" text-anchor="end">[0.15; 0.49]</text>
<line x1="453.09" y1="286.34" x2="477.09" y2="286.34" stroke="#808080" stroke-width="0.7"/>
<rect x="461.94" y="283.89" width="4.89" height="4.89" fill="#ee0a12"/>
<rect x="463.59" y="285.89" width="1.6" height="0.9" fill="#7a1515" opacity="0.8"/>
<text x="296.20" y="294.00" class="au">Arane,2018</text>
<text x="361.20" y="294.00" text-anchor="end">9</text>
<text x="384.50" y="294.00" text-anchor="end">30</text>
<text x="412.10" y="294.00" text-anchor="end">0.30</text>
<text x="440.70" y="294.00" class="ci" text-anchor="end">[0.15; 0.48]</text>
<line x1="453.09" y1="292.30" x2="476.39" y2="292.30" stroke="#808080" stroke-width="0.7"/>
<rect x="461.22" y="289.84" width="4.91" height="4.91" fill="#ee0a12"/>
<rect x="462.88" y="291.85" width="1.6" height="0.9" fill="#7a1515" opacity="0.8"/>
<text x="296.20" y="299.96" class="au">Jarutach,2021</text>
<text x="361.20" y="299.96" text-anchor="end">2</text>
<text x="384.50" y="299.96" text-anchor="end">7</text>
<text x="412.10" y="299.96" text-anchor="end">0.29</text>
<text x="440.70" y="299.96" class="ci" text-anchor="end">[0.01; 0.68]</text>
<line x1="443.21" y1="298.26" x2="490.51" y2="298.26" stroke="#808080" stroke-width="0.7"/>
<rect x="461.13" y="296.41" width="3.70" height="3.70" fill="#ee0a12"/>
<rect x="462.17" y="297.81" width="1.6" height="0.9" fill="#7a1515" opacity="0.8"/>
<text x="296.20" y="305.92" class="au">Grignani,2019</text>
<text x="361.20" y="305.92" text-anchor="end">2</text>
<text x="384.50" y="305.92" text-anchor="end">17</text>
<text x="412.10" y="305.92" text-anchor="end">0.12</text>
<text x="440.70" y="305.92" class="ci" text-anchor="end">[0.00; 0.32]</text>
<line x1="442.50" y1="304.22" x2="465.09" y2="304.22" stroke="#808080" stroke-width="0.7"/>
<rect x="448.72" y="301.96" width="4.51" height="4.51" fill="#ee0a12"/>
<rect x="450.17" y="303.77" width="1.6" height="0.9" fill="#7a1515" opacity="0.8"/>
<text x="296.20" y="311.88" class="au">Qian,2018</text>
<text x="361.20" y="311.88" text-anchor="end">5</text>
<text x="384.50" y="311.88" text-anchor="end">48</text>
<text x="412.10" y="311.88" text-anchor="end">0.10</text>
<text x="440.70" y="311.88" class="ci" text-anchor="end">[0.03; 0.21]</text>
<line x1="444.62" y1="310.18" x2="457.33" y2="310.18" stroke="#808080" stroke-width="0.7"/>
<rect x="446.98" y="307.60" width="5.16" height="5.16" fill="#ee0a12"/>
<rect x="448.76" y="309.73" width="1.6" height="0.9" fill="#7a1515" opacity="0.8"/>
<text x="296.20" y="317.84" class="au">Edraki,2020</text>
<text x="361.20" y="317.84" text-anchor="end">1</text>
<text x="384.50" y="317.84" text-anchor="end">12</text>
<text x="412.10" y="317.84" text-anchor="end">0.08</text>
<text x="440.70" y="317.84" class="ci" text-anchor="end">[0.00; 0.32]</text>
<line x1="442.50" y1="316.14" x2="465.09" y2="316.14" stroke="#808080" stroke-width="0.7"/>
<rect x="446.04" y="314.03" width="4.21" height="4.21" fill="#ee0a12"/>
<rect x="447.35" y="315.69" width="1.6" height="0.9" fill="#7a1515" opacity="0.8"/>
<text x="295.90" y="329.76" class="b">Total (95% CI)</text>
<text x="361.20" y="329.76" class="b" text-anchor="end">208</text>
<text x="384.50" y="329.76" class="b" text-anchor="end">527</text>
<text x="412.10" y="329.76" class="b" text-anchor="end">0.35</text>
<text x="440.70" y="329.76" class="b" text-anchor="end">[0.26; 0.45]</text>
<polygon points="460.86,328.06 467.21,326.16 474.27,328.06 467.21,329.96" fill="#000"/>
<text x="295.90" y="335.72" class="b">Prediction interval</text>
<text x="440.70" y="335.72" class="b" text-anchor="end">[0.06; 0.72]</text>
<rect x="446.74" y="333.22" width="46.60" height="1.6" fill="#a62e36" stroke="#8c141a" stroke-width="0.3"/>
<text x="295.65" y="342.13" class="h">Heterogeneity: Tau<tspan dy="-1.9" font-size="3.56">2</tspan><tspan dy="1.9"> = 0.0246; Chi</tspan><tspan dy="-1.9" font-size="3.56">2</tspan><tspan dy="1.9"> = 59.04, df = 14 (<tspan font-style="italic">P</tspan> &lt; 0.01); <tspan font-style="italic">I</tspan></tspan><tspan dy="-1.9" font-size="3.56">2</tspan><tspan dy="1.9"> = 76%</tspan></text>
<line x1="442.10" y1="336.90" x2="513.50" y2="336.90" stroke="#8c8c8c" stroke-width="0.8"/>
<line x1="442.50" y1="336.90" x2="442.50" y2="339.00" stroke="#8c8c8c" stroke-width="0.8"/>
<text x="442.50" y="347.50" class="tk" text-anchor="middle">0</text>
<line x1="456.62" y1="336.90" x2="456.62" y2="339.00" stroke="#8c8c8c" stroke-width="0.8"/>
<text x="456.62" y="347.50" class="tk" text-anchor="middle">0.2</text>
<line x1="470.74" y1="336.90" x2="470.74" y2="339.00" stroke="#8c8c8c" stroke-width="0.8"/>
<text x="470.74" y="347.50" class="tk" text-anchor="middle">0.4</text>
<line x1="484.86" y1="336.90" x2="484.86" y2="339.00" stroke="#8c8c8c" stroke-width="0.8"/>
<text x="484.86" y="347.50" class="tk" text-anchor="middle">0.6</text>
<line x1="498.98" y1="336.90" x2="498.98" y2="339.00" stroke="#8c8c8c" stroke-width="0.8"/>
<text x="498.98" y="347.50" class="tk" text-anchor="middle">0.8</text>
<line x1="513.10" y1="336.90" x2="513.10" y2="339.00" stroke="#8c8c8c" stroke-width="0.8"/>
<text x="513.10" y="347.50" class="tk" text-anchor="middle">1</text>
</g>
<g id="panel-E">
<text x="0.40" y="409.75" class="lbl">E</text>
<text x="2.00" y="429.84" class="b">Author,Year</text>
<text x="63.40" y="429.84" class="b" text-anchor="end">Resistance</text>
<text x="87.00" y="429.84" class="b" text-anchor="end">High risk</text>
<text x="114.90" y="429.84" class="b" text-anchor="end">Proportion</text>
<text x="143.30" y="429.84" class="b" text-anchor="end">95% CI</text>
<text x="180.25" y="429.84" class="b" text-anchor="middle">IV, Random, 95% CI</text>
<line x1="154.87" y1="431.04" x2="154.87" y2="475.92" stroke="#6e6e6e" stroke-width="0.5" stroke-dasharray="0.6 0.8"/>
<text x="2.00" y="435.90" class="au">Wang,2020</text>
<text x="63.40" y="435.90" text-anchor="end">10</text>
<text x="87.00" y="435.90" text-anchor="end">38</text>
<text x="114.90" y="435.90" text-anchor="end">0.26</text>
<text x="143.30" y="435.90" class="ci" text-anchor="end">[0.13; 0.42]</text>
<line x1="154.16" y1="434.20" x2="174.61" y2="434.20" stroke="#808080" stroke-width="0.7"/>
<rect x="160.97" y="431.84" width="4.72" height="4.72" fill="#ee0a12"/>
<rect x="162.53" y="433.75" width="1.6" height="0.9" fill="#7a1515" opacity="0.8"/>
<text x="2.00" y="441.86" class="au">Fabi,2019</text>
<text x="63.40" y="441.86" text-anchor="end">17</text>
<text x="87.00" y="441.86" text-anchor="end">66</text>
<text x="114.90" y="441.86" text-anchor="end">0.26</text>
<text x="143.30" y="441.86" class="ci" text-anchor="end">[0.16; 0.37]</text>
<line x1="156.28" y1="440.16" x2="171.09" y2="440.16" stroke="#808080" stroke-width="0.7"/>
<rect x="160.82" y="437.65" width="5.03" height="5.03" fill="#ee0a12"/>
<rect x="162.53" y="439.71" width="1.6" height="0.9" fill="#7a1515" opacity="0.8"/>
<text x="2.00" y="447.82" class="au">Shao,2019</text>
<text x="63.40" y="447.82" text-anchor="end">33</text>
<text x="87.00" y="447.82" text-anchor="end">189</text>
<text x="114.90" y="447.82" text-anchor="end">0.17</text>
<text x="143.30" y="447.82" class="ci" text-anchor="end">[0.12; 0.23]</text>
<line x1="153.46" y1="446.12" x2="161.22" y2="446.12" stroke="#808080" stroke-width="0.7"/>
<rect x="154.31" y="443.44" width="5.36" height="5.36" fill="#ee0a12"/>
<rect x="156.19" y="445.67" width="1.6" height="0.9" fill="#7a1515" opacity="0.8"/>
<text x="2.00" y="453.78" class="au">Öztarhan,2020</text>
<text x="63.40" y="453.78" text-anchor="end">13</text>
<text x="87.00" y="453.78" text-anchor="end">78</text>
<text x="114.90" y="453.78" text-anchor="end">0.17</text>
<text x="143.30" y="453.78" class="ci" text-anchor="end">[0.09; 0.26]</text>
<line x1="151.34" y1="452.08" x2="163.33" y2="452.08" stroke="#808080" stroke-width="0.7"/>
<rect x="154.43" y="449.53" width="5.10" height="5.10" fill="#ee0a12"/>
<rect x="156.19" y="451.63" width="1.6" height="0.9" fill="#7a1515" opacity="0.8"/>
<text x="2.00" y="459.74" class="au">Qian,2018</text>
<text x="63.40" y="459.74" text-anchor="end">17</text>
<text x="87.00" y="459.74" text-anchor="end">265</text>
<text x="114.90" y="459.74" text-anchor="end">0.06</text>
<text x="143.30" y="459.74" class="ci" text-anchor="end">[0.04; 0.10]</text>
<line x1="147.82" y1="458.04" x2="152.05" y2="458.04" stroke="#808080" stroke-width="0.7"/>
<rect x="146.52" y="455.33" width="5.42" height="5.42" fill="#ee0a12"/>
<rect x="148.43" y="457.59" width="1.6" height="0.9" fill="#7a1515" opacity="0.8"/>
<text x="2.00" y="465.70" class="au">Song,2017</text>
<text x="63.40" y="465.70" text-anchor="end">27</text>
<text x="87.00" y="465.70" text-anchor="end">608</text>
<text x="114.90" y="465.70" text-anchor="end">0.04</text>
<text x="143.30" y="465.70" class="ci" text-anchor="end">[0.03; 0.06]</text>
<line x1="147.12" y1="464.00" x2="149.23" y2="464.00" stroke="#808080" stroke-width="0.7"/>
<rect x="145.07" y="461.25" width="5.50" height="5.50" fill="#ee0a12"/>
<rect x="147.02" y="463.55" width="1.6" height="0.9" fill="#7a1515" opacity="0.8"/>
<text x="1.70" y="477.62" class="b">Total (95% CI)</text>
<text x="63.40" y="477.62" class="b" text-anchor="end">117</text>
<text x="87.00" y="477.62" class="b" text-anchor="end">1244</text>
<text x="114.90" y="477.62" class="b" text-anchor="end">0.14</text>
<text x="143.30" y="477.62" class="b" text-anchor="end">[0.07; 0.23]</text>
<polygon points="149.94,475.92 154.87,474.02 161.22,475.92 154.87,477.82" fill="#000"/>
<text x="1.70" y="483.58" class="b">Prediction interval</text>
<text x="143.30" y="483.58" class="b" text-anchor="end">[0.00; 0.50]</text>
<rect x="145.00" y="481.08" width="35.25" height="1.6" fill="#a62e36" stroke="#8c141a" stroke-width="0.3"/>
<text x="1.45" y="489.99" class="h">Heterogeneity: Tau<tspan dy="-1.9" font-size="3.56">2</tspan><tspan dy="1.9"> = 0.0167; Chi</tspan><tspan dy="-1.9" font-size="3.56">2</tspan><tspan dy="1.9"> = 62.29, df = 5 (<tspan font-style="italic">P</tspan> &lt; 0.01); <tspan font-style="italic">I</tspan></tspan><tspan dy="-1.9" font-size="3.56">2</tspan><tspan dy="1.9"> = 92%</tspan></text>
<line x1="144.60" y1="484.76" x2="215.90" y2="484.76" stroke="#8c8c8c" stroke-width="0.8"/>
<line x1="145.00" y1="484.76" x2="145.00" y2="486.86" stroke="#8c8c8c" stroke-width="0.8"/>
<text x="145.00" y="495.36" class="tk" text-anchor="middle">0</text>
<line x1="159.10" y1="484.76" x2="159.10" y2="486.86" stroke="#8c8c8c" stroke-width="0.8"/>
<text x="159.10" y="495.36" class="tk" text-anchor="middle">0.2</text>
<line x1="173.20" y1="484.76" x2="173.20" y2="486.86" stroke="#8c8c8c" stroke-width="0.8"/>
<text x="173.20" y="495.36" class="tk" text-anchor="middle">0.4</text>
<line x1="187.30" y1="484.76" x2="187.30" y2="486.86" stroke="#8c8c8c" stroke-width="0.8"/>
<text x="187.30" y="495.36" class="tk" text-anchor="middle">0.6</text>
<line x1="201.40" y1="484.76" x2="201.40" y2="486.86" stroke="#8c8c8c" stroke-width="0.8"/>
<text x="201.40" y="495.36" class="tk" text-anchor="middle">0.8</text>
<line x1="215.50" y1="484.76" x2="215.50" y2="486.86" stroke="#8c8c8c" stroke-width="0.8"/>
<text x="215.50" y="495.36" class="tk" text-anchor="middle">1</text>
</g>
<g id="panel-F">
<text x="294.20" y="409.75" class="lbl">F</text>
<text x="300.10" y="431.74" class="b">Author,Year</text>
<text x="361.20" y="431.74" class="b" text-anchor="end">Resistance</text>
<text x="384.50" y="431.74" class="b" text-anchor="end">High risk</text>
<text x="412.10" y="431.74" class="b" text-anchor="end">Proportion</text>
<text x="440.70" y="431.74" class="b" text-anchor="end">95% CI</text>
<text x="478.15" y="431.74" class="b" text-anchor="middle">IV, Random, 95% CI</text>
<line x1="454.04" y1="432.94" x2="454.04" y2="453.98" stroke="#6e6e6e" stroke-width="0.5" stroke-dasharray="0.6 0.8"/>
<text x="300.10" y="437.80" class="au">Öztarhan,2020</text>
<text x="361.20" y="437.80" text-anchor="end">27</text>
<text x="384.50" y="437.80" text-anchor="end">147</text>
<text x="412.10" y="437.80" text-anchor="end">0.18</text>
<text x="440.70" y="437.80" class="ci" text-anchor="end">[0.12; 0.25]</text>
<line x1="451.21" y1="436.10" x2="460.43" y2="436.10" stroke="#808080" stroke-width="0.7"/>
<rect x="452.71" y="433.35" width="5.50" height="5.50" fill="#ee0a12"/>
<rect x="454.66" y="435.65" width="1.6" height="0.9" fill="#7a1515" opacity="0.8"/>
<text x="300.10" y="443.76" class="au">Edraki,2020</text>
<text x="361.20" y="443.76" text-anchor="end">6</text>
<text x="384.50" y="443.76" text-anchor="end">51</text>
<text x="412.10" y="443.76" text-anchor="end">0.12</text>
<text x="440.70" y="443.76" class="ci" text-anchor="end">[0.04; 0.22]</text>
<line x1="445.54" y1="442.06" x2="458.30" y2="442.06" stroke="#808080" stroke-width="0.7"/>
<rect x="449.50" y="440.35" width="3.42" height="3.42" fill="#ee0a12"/>
<rect x="450.41" y="441.61" width="1.6" height="0.9" fill="#7a1515" opacity="0.8"/>
<text x="299.80" y="455.68" class="b">Total (95% CI)</text>
<text x="361.20" y="455.68" class="b" text-anchor="end">33</text>
<text x="384.50" y="455.68" class="b" text-anchor="end">198</text>
<text x="412.10" y="455.68" class="b" text-anchor="end">0.16</text>
<text x="440.70" y="455.68" class="b" text-anchor="end">[0.11; 0.22]</text>
<polygon points="450.50,453.98 454.04,452.08 458.30,453.98 454.04,455.88" fill="#000"/>
<text x="299.55" y="462.09" class="h">Heterogeneity: Tau<tspan dy="-1.9" font-size="3.56">2</tspan><tspan dy="1.9"> = 0.0003; Chi</tspan><tspan dy="-1.9" font-size="3.56">2</tspan><tspan dy="1.9"> = 1.09, df = 1 (<tspan font-style="italic">P</tspan> = 0.30); <tspan font-style="italic">I</tspan></tspan><tspan dy="-1.9" font-size="3.56">2</tspan><tspan dy="1.9"> = 8%</tspan></text>
<line x1="442.30" y1="458.06" x2="514.00" y2="458.06" stroke="#8c8c8c" stroke-width="0.8"/>
<line x1="442.70" y1="458.06" x2="442.70" y2="460.16" stroke="#8c8c8c" stroke-width="0.8"/>
<text x="442.70" y="467.16" class="tk" text-anchor="middle">0</text>
<line x1="456.88" y1="458.06" x2="456.88" y2="460.16" stroke="#8c8c8c" stroke-width="0.8"/>
<text x="456.88" y="467.16" class="tk" text-anchor="middle">0.2</text>
<line x1="471.06" y1="458.06" x2="471.06" y2="460.16" stroke="#8c8c8c" stroke-width="0.8"/>
<text x="471.06" y="467.16" class="tk" text-anchor="middle">0.4</text>
<line x1="485.24" y1="458.06" x2="485.24" y2="460.16" stroke="#8c8c8c" stroke-width="0.8"/>
<text x="485.24" y="467.16" class="tk" text-anchor="middle">0.6</text>
<line x1="499.42" y1="458.06" x2="499.42" y2="460.16" stroke="#8c8c8c" stroke-width="0.8"/>
<text x="499.42" y="467.16" class="tk" text-anchor="middle">0.8</text>
<line x1="513.60" y1="458.06" x2="513.60" y2="460.16" stroke="#8c8c8c" stroke-width="0.8"/>
<text x="513.60" y="467.16" class="tk" text-anchor="middle">1</text>
</g>
</g>
</svg>
</body>
</html>
